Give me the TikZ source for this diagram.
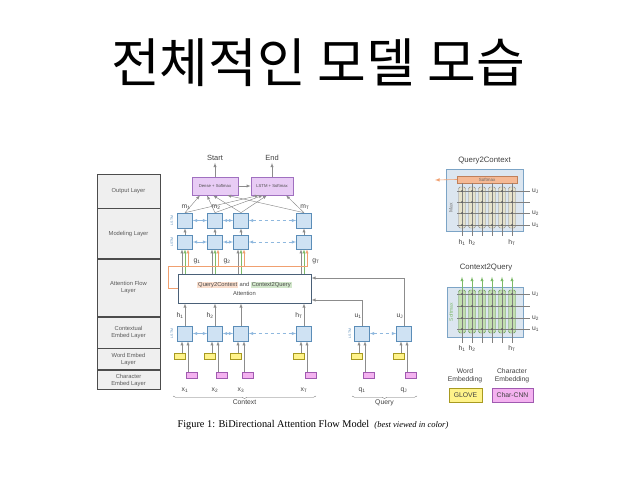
\documentclass[tikz,border=0pt]{standalone}
\usepackage{fontspec}
\setmainfont{Liberation Serif}
\setsansfont{Liberation Sans}
\newfontfamily\krfont{Noto Sans CJK KR}
\usepackage{xcolor}
\usetikzlibrary{calc, positioning, decorations.pathreplacing}

\definecolor{layerfill}{HTML}{EFEFEF}
\definecolor{lstmfill}{HTML}{CFE2F3}
\definecolor{lstmline}{HTML}{5B8DB8}
\definecolor{bluearrow}{HTML}{8FB8DE}
\definecolor{glovefill}{HTML}{FFF38A}
\definecolor{gloveline}{HTML}{A89A20}
\definecolor{charfill}{HTML}{F4B2F0}
\definecolor{charline}{HTML}{A05AB0}
\definecolor{outfill}{HTML}{E8CCF5}
\definecolor{outdraw}{HTML}{A070C0}
\definecolor{attline}{HTML}{4A6078}
\definecolor{orangeln}{HTML}{F0A070}
\definecolor{greenln}{HTML}{7DBB6A}
\definecolor{panelfill}{HTML}{DCE6F0}
\definecolor{q2ccol}{HTML}{E6E2CC}
\definecolor{c2qcol}{HTML}{C3DFB0}
\definecolor{softfill}{HTML}{F5B995}
\setlength{\fboxsep}{0.8pt}

\begin{document}
\begin{tikzpicture}[x=1pt, y=-1pt, >=latex,
    layerbox/.style={draw=black!70, line width=0.7pt, fill=layerfill, minimum width=63pt, inner sep=0pt, align=center, text=black!65, font=\sffamily\fontsize{5.8}{7}\selectfont},
    lstmbox/.style={draw=lstmline, fill=lstmfill, minimum width=15pt, minimum height=15pt, inner sep=0pt, line width=0.6pt},
    glovebox/.style={draw=gloveline, fill=glovefill, minimum width=11pt, minimum height=6pt, inner sep=0pt},
    charbox/.style={draw=charline, fill=charfill, minimum width=11pt, minimum height=6pt, inner sep=0pt},
    outbox/.style={draw=outdraw, fill=outfill, minimum height=18pt, inner sep=0pt, line width=0.6pt, font=\sffamily\fontsize{4.2}{5}\selectfont, text=black!70},
    lbl/.style={inner sep=0pt, text=black!75, font=\sffamily\fontsize{6.8}{7.8}\selectfont},
    lstmtag/.style={rotate=90, inner sep=0pt, text=lstmline, font=\sffamily\fontsize{3.5}{4}\selectfont},
    grayarr/.style={->, draw=black!45, line width=0.45pt},
    bluearr/.style={<->, draw=bluearrow, line width=0.5pt},
    panel/.style={draw=lstmline!80, fill=panelfill, inner sep=0pt, line width=0.6pt},
    colbox/.style={draw=black!45, rounded corners=1.5pt, minimum width=7pt, inner sep=0pt},
  ]
    \useasboundingbox (0,0) rectangle (638,479);

    % Title
    \node[font=\krfont\fontsize{53}{57}\selectfont] (title) at (318,63) {전체적인 모델 모습};

    % Layer column
    \node[layerbox, minimum height=34pt] (outl) at (128.5,191) {Output Layer};
    \node[layerbox, minimum height=50pt, below=0pt of outl] (modl) {Modeling Layer};
    \node[layerbox, minimum height=57pt, below=0pt of modl] (attl) {Attention Flow\\Layer};
    \node[layerbox, minimum height=31pt, below=0pt of attl] (ctxl) {Contextual\\Embed Layer};
    \node[layerbox, minimum height=21pt, below=0pt of ctxl] (wrdl) {Word Embed\\Layer};
    \node[layerbox, minimum height=19pt, below=0pt of wrdl] (chrl) {Character\\Embed Layer};

    % Output layer
    \node[outbox, minimum width=46pt] (dense) at (215,186) {Dense + Softmax};
    \node[outbox, minimum width=42pt] (lstmout) at (272,186) {LSTM + Softmax};
    \node[lbl, font=\sffamily\fontsize{7.5}{8}\selectfont] (start) at (215,158) {Start};
    \node[lbl, font=\sffamily\fontsize{7.5}{8}\selectfont] (end) at (272,158) {End};
    \draw[grayarr, shorten >=2pt] (dense.north) -- (start.south);
    \draw[grayarr, shorten >=2pt] (lstmout.north) -- (end.south);
    \draw[grayarr] (dense.east) -- (lstmout.west);

    % Attention flow layer
    \node[draw=attline, line width=0.9pt, fill=white, minimum width=133pt, minimum height=29pt, inner sep=0pt, align=center, text=black!70, font=\sffamily\fontsize{5.8}{9}\selectfont] (att) at (244.5,288.5)
        {\colorbox{orangeln!35}{Query2Context} and \colorbox{greenln!35}{Context2Query}\\Attention};
    \coordinate (oturn) at (168,266);

    % Context columns
    \foreach \i/\x in {1/185, 2/215, 3/241, T/304} {
        \node[lstmbox] (ctx\i) at (\x,333.5) {};
        \node[glovebox] (wrd\i) at (\x-5,356) {};
        \node[charbox] (chr\i) at (\x+7,375) {};
        \node[lstmbox, minimum height=14pt] (mlo\i) at (\x,242) {};
        \node[lstmbox] (mup\i) at (\x,220.5) {};
        \node[lbl] (xl\i) at (\x,390) {x\textsubscript{\i}};
        \draw[grayarr] ([xshift=2pt]wrd\i.north) -- ([xshift=2pt]wrd\i.north |- ctx\i.south);
        \draw[grayarr] ([xshift=-4pt]chr\i.north) -- ([xshift=-4pt]chr\i.north |- ctx\i.south);
        \draw[grayarr] (ctx\i.north) -- (ctx\i.north |- att.south);
        \draw[grayarr] ([xshift=-3pt]mlo\i.south |- att.north) -- ([xshift=-3pt]mlo\i.south);
        \draw[->, greenln, line width=0.45pt] (mlo\i.south |- att.north) -- (mlo\i.south);
        \draw[->, orangeln, line width=0.45pt] ([xshift=3pt]mlo\i.south |- oturn) -- ([xshift=3pt]mlo\i.south);
        \draw[grayarr] (mlo\i.north) -- (mup\i.south);
    }
    \draw[orangeln, line width=0.6pt] (att.west) -| (oturn) -- ([xshift=4pt]oturn -| mloT.south);

    % h, g, m labels
    \foreach \i/\x in {1/185, 2/215, T/304} {
        \node[lbl] (hl\i) at (\x-5,316) {h\textsubscript{\i}};
        \node[lbl] (gl\i) at (\x+12,261) {g\textsubscript{\i}};
        \node[lbl] (ml\i) at (\x+1,207) {m\textsubscript{\i}};
    }

    % Bidirectional LSTM links
    \foreach \row in {ctx, mlo, mup} {
        \draw[bluearr] (\row1.east) -- (\row2.west);
        \draw[bluearr] (\row2.east) -- (\row3.west);
        \draw[bluearr, dashed] (\row3.east) -- (\row T.west);
    }
    \node[lstmtag] (tagc) at (172,333.5) {LSTM};
    \node[lstmtag] (tagl) at (172,242) {LSTM};
    \node[lstmtag] (tagu) at (172,220.5) {LSTM};

    % Modeling to output
    \foreach \i/\a/\b in {1/-15/-13, 2/-8/-9, 3/-2/-5, T/12/14} {
        \draw[grayarr] (mup\i.north) -- ([xshift=\a pt]dense.south);
        \draw[grayarr] (mup\i.north) -- ([xshift=\b pt]lstmout.south);
    }

    % Query columns
    \foreach \j/\x in {1/362, J/404} {
        \node[lstmbox] (qry\j) at (\x,333.5) {};
        \node[glovebox] (qwrd\j) at (\x-5,356) {};
        \node[charbox] (qchr\j) at (\x+7,375) {};
        \node[lbl] (ql\j) at (\x,390) {q\textsubscript{\j}};
        \node[lbl] (ul\j) at (\x-4,316) {u\textsubscript{\j}};
        \draw[grayarr] ([xshift=2pt]qwrd\j.north) -- ([xshift=2pt]qwrd\j.north |- qry\j.south);
        \draw[grayarr] ([xshift=-4pt]qchr\j.north) -- ([xshift=-4pt]qchr\j.north |- qry\j.south);
    }
    \draw[bluearr, dashed] (qry1.east) -- (qryJ.west);
    \node[lstmtag] (tagq) at (350,333.5) {LSTM};
    \draw[grayarr] (qry1.north) |- ([yshift=-11.5pt]att.east);
    \draw[grayarr] (qryJ.north) |- ([yshift=10.5pt]att.east);

    % Braces
    \draw[decorate, decoration={brace, mirror, amplitude=2.5pt}, black!60] (173,396) -- (316,396)
        node[lbl, midway, below=4pt] (ctxname) {Context};
    \draw[decorate, decoration={brace, mirror, amplitude=2.5pt}, black!60] (352,396) -- (417,396)
        node[lbl, midway, below=4pt] (qryname) {Query};

    % Query2Context panel
    \node[lbl, font=\sffamily\fontsize{7.8}{8}\selectfont] (q2cname) at (484.5,161) {Query2Context};
    \node[panel, minimum width=77pt, minimum height=62pt] (q2c) at (484.5,200) {};
    \node[draw=orangeln!80!black, fill=softfill, minimum width=60pt, minimum height=7pt, inner sep=0pt, text=black!60, font=\sffamily\fontsize{4.5}{5}\selectfont] (soft) at (487,179.5) {Softmax};
    \coordinate (q2cend) at (435,180);
    \draw[->, orangeln, line width=0.6pt] (soft.west) -- (q2cend);
    \foreach \k in {1,...,6}
        \node[colbox, fill=q2ccol, minimum height=41pt] (qc\k) at ({452+10*\k},207.5) {};
    \foreach \k in {1,...,6}
        \draw[black!50, line width=0.4pt] (qc\k.north |- soft.south) -- ({452+10*\k},236);
    \foreach \y in {191, 202, 213, 225} {
        \draw[black!50, line width=0.4pt] (457,\y) -- (530,\y);
        \foreach \k in {1,...,6}
            \fill[black!70] ({452+10*\k},\y) circle (0.9pt);
    }
    \node[lbl, anchor=west] (q2cuJ) at (532,191) {u\textsubscript{J}};
    \node[lbl, anchor=west] (q2cu2) at (532,213) {u\textsubscript{2}};
    \node[lbl, anchor=west] (q2cu1) at (532,225) {u\textsubscript{1}};
    \node[lbl] (q2ch1) at (462,243) {h\textsubscript{1}};
    \node[lbl] (q2ch2) at (472,243) {h\textsubscript{2}};
    \node[lbl] (q2chT) at (512,243) {h\textsubscript{T}};
    \node[lstmtag, text=black!55, font=\sffamily\fontsize{5}{6}\selectfont] (maxname) at (451,207.5) {Max};

    % Context2Query panel
    \node[lbl, font=\sffamily\fontsize{7.8}{8}\selectfont] (c2qname) at (486,268) {Context2Query};
    \node[panel, minimum width=76pt, minimum height=50pt] (c2q) at (485,312) {};
    \foreach \k in {1,...,6}
        \node[colbox, fill=c2qcol, draw=greenln!80!black, minimum height=43pt] (cc\k) at ({452+10*\k},311.5) {};
    \foreach \k in {1,...,6} {
        \draw[black!50, line width=0.4pt] (cc\k.north) -- ({452+10*\k},343);
        \draw[->, greenln, line width=0.5pt] (cc\k.north) -- ++(0,-13);
    }
    \foreach \y in {294, 306, 318, 329} {
        \draw[black!50, line width=0.4pt] (457,\y) -- (530,\y);
        \foreach \k in {1,...,6}
            \fill[black!70] ({452+10*\k},\y) circle (0.9pt);
    }
    \node[lbl, anchor=west] (c2cuJ) at (532,294) {u\textsubscript{J}};
    \node[lbl, anchor=west] (c2cu2) at (532,318) {u\textsubscript{2}};
    \node[lbl, anchor=west] (c2cu1) at (532,329) {u\textsubscript{1}};
    \node[lbl] (c2qh1) at (462,349) {h\textsubscript{1}};
    \node[lbl] (c2qh2) at (472,349) {h\textsubscript{2}};
    \node[lbl] (c2qhT) at (512,349) {h\textsubscript{T}};
    \node[lstmtag, text=greenln, font=\sffamily\fontsize{5}{6}\selectfont] (softname) at (451,312) {Softmax};

    % Legend
    \node[lbl, align=center] (wlegend) at (465,376) {Word\\Embedding};
    \node[lbl, align=center] (clegend) at (512,376) {Character\\Embedding};
    \node[lbl, draw=gloveline, fill=glovefill, minimum width=33pt, minimum height=14pt, line width=0.6pt] (glove) at (465.5,395) {GLOVE};
    \node[lbl, draw=charline, fill=charfill, minimum width=41pt, minimum height=14pt, line width=0.6pt] (cnn) at (512.5,395) {Char-CNN};

    % Caption
    \node[inner sep=0pt, font=\rmfamily\fontsize{10.3}{12}\selectfont] (caption) at (313,425)
        {Figure 1: BiDirectional Attention Flow Model\ \ {\itshape\fontsize{8.5}{10}\selectfont (best viewed in color)}};
\end{tikzpicture}
\end{document}
